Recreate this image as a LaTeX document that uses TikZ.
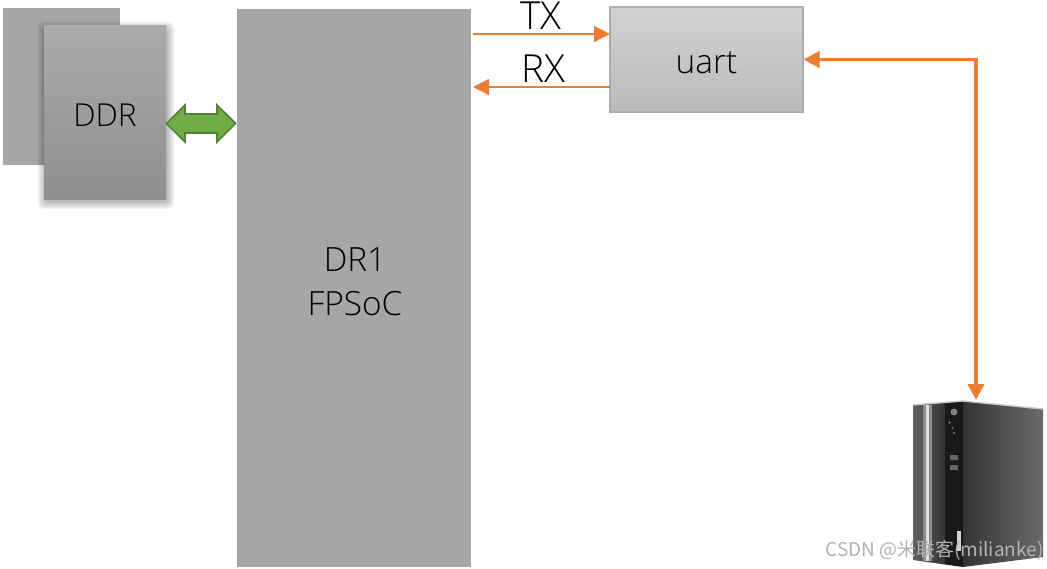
\documentclass[tikz,border=0pt]{standalone}
\usepackage{fontspec}
\setmainfont{Open Sans Light}
\newfontfamily\cjk{Noto Sans CJK SC}
\usepackage{tikz}
\usetikzlibrary{arrows.meta,shapes.arrows}

\definecolor{wireorange}{HTML}{ED7D31}
\definecolor{linkgreen}{HTML}{70AD47}
\definecolor{linkedge}{HTML}{548235}
\definecolor{chipgray}{HTML}{A6A6A6}

\tikzset{
  blocklabel/.style={font=\fontsize{19}{23}\selectfont,text=black},
  wirelabel/.style={font=\fontsize{22}{26}\selectfont,text=black},
  chip/.style={fill=chipgray,inner sep=0pt,blocklabel},
  wire/.style={wireorange,line width=0.8pt,-{Triangle[length=0.32cm,width=0.32cm]}},
}

\begin{document}
\begin{tikzpicture}
  \useasboundingbox (0,0) rectangle (20.94,-11.38);

  % memory
  \draw (1.23,-1.73) node[chip,minimum width=2.34cm,minimum height=3.14cm] (ddrback) {};
  \foreach \s in {0.14,0.11,0.08,0.05,0.02}
    \fill[black,opacity=0.06,rounded corners=3pt] (0.90-\s,-0.58+\s) rectangle (3.34+\s,-4.04-\s);
  \draw (2.10,-2.26) node[chip,top color=black!33,bottom color=black!44,minimum width=2.44cm,
     minimum height=3.48cm,font=\fontsize{18}{22}\selectfont,text height=0.56cm] (ddr) {DDR};

  % soc
  \draw (7.08,-5.76) node[chip,minimum width=4.68cm,minimum height=11.16cm] (soc) {};
  \draw (7.10,-5.64) node[blocklabel,align=center] (soctext) {DR1\\[0.07cm]FPSoC};

  \draw (4.02,-2.47) node[double arrow,fill=linkgreen,draw=linkedge,line width=1pt,minimum width=0.72cm,
     minimum height=1.38cm,double arrow head extend=0.18cm,inner xsep=0pt,inner ysep=0.17cm,
     double arrow head indent=0cm] (ddrlink) {};

  % serial port
  \draw (14.13,-1.19) node[chip,draw=black!32,line width=0.6pt,top color=black!18,bottom color=black!27,
     minimum width=3.86cm,minimum height=2.10cm,text height=0.58cm] (uart) {uart};

  \coordinate (txfrom) at (9.46,-0.68);
  \coordinate (txto) at (12.20,-0.68);
  \coordinate (rxfrom) at (12.20,-1.74);
  \coordinate (rxto) at (9.46,-1.74);
  \coordinate (pc) at (19.52,-8.00);

  \path[wire] (txfrom) edge (txto);
  \path[wire] (rxfrom) edge (rxto);
  \draw (10.82,-0.32) node[wirelabel] (txtext) {TX};
  \draw (10.87,-1.38) node[wirelabel] (rxtext) {RX};

  \draw[wireorange,line width=2.2pt,{Triangle[length=0.32cm,width=0.32cm]}-{Triangle[length=0.32cm,width=0.32cm]}]
     (uart.east) -| (pc);

  % computer
  \shade[left color=black!80,right color=black!58] (19.26,-8.02) -- (20.86,-8.18) -- (20.86,-11.14) -- (19.26,-11.34) -- cycle;
  \shade[left color=black!62,right color=black!80] (18.26,-8.10) -- (18.90,-8.05) -- (18.90,-11.29) -- (18.26,-11.20) -- cycle;
  \fill[black!90] (18.90,-8.05) -- (19.26,-8.02) -- (19.26,-11.34) -- (18.90,-11.29) -- cycle;
  \fill[black!45] (18.46,-8.10) rectangle (18.64,-11.22);
  \fill[black!12] (18.52,-8.10) rectangle (18.58,-11.22);
  \draw[black!22,line width=0.8pt] (18.26,-8.10) -- (19.26,-8.02) -- (20.86,-8.18);
  \fill[black!50] (19.08,-8.24) circle (0.07);
  \fill[black!50] (18.99,-8.45) circle (0.025) (19.05,-8.56) circle (0.02) (19.08,-8.66) circle (0.02);
  \fill[black!60] (19.00,-9.10) rectangle (19.16,-9.20) (19.00,-9.30) rectangle (19.16,-9.40);
  \fill[black!18] (19.14,-10.62) rectangle (19.21,-11.02);

  \draw (18.69,-11.00) node[text=black!30,font=\cjk\fontsize{10.8}{13}\selectfont] (mark) {CSDN @米联客(milianke)};
\end{tikzpicture}
\end{document}
